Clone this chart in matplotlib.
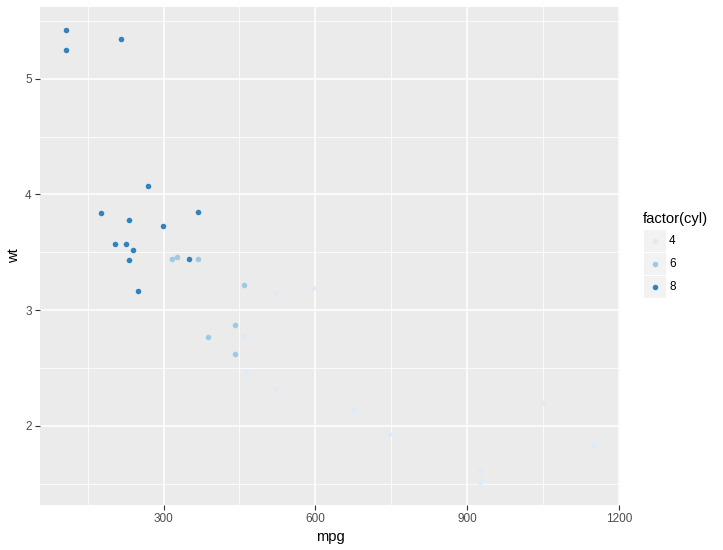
import matplotlib.pyplot as plt
from matplotlib.patches import Rectangle

# mtcars, x drawn as mpg^2
mpg_sq = [441.0, 441.0, 519.8, 458.0, 349.7, 327.6, 204.5, 595.4, 519.8, 368.6,
          316.8, 269.0, 299.3, 231.0, 108.2, 108.2, 216.1, 1049.8, 924.2, 1149.2,
          462.3, 240.3, 231.0, 176.9, 368.6, 745.3, 676.0, 924.2, 249.6, 388.1,
          225.0, 458.0]
wt = [2.620, 2.875, 2.320, 3.215, 3.440, 3.460, 3.570, 3.190, 3.150, 3.440,
      3.440, 4.070, 3.730, 3.780, 5.250, 5.424, 5.345, 2.200, 1.615, 1.835,
      2.465, 3.520, 3.435, 3.840, 3.845, 1.935, 2.140, 1.513, 3.170, 2.770,
      3.570, 2.780]
cyl = [6, 6, 4, 6, 8, 6, 8, 4, 4, 6, 6, 8, 8, 8, 8, 8, 8, 4, 4, 4,
       4, 8, 8, 8, 8, 4, 4, 4, 8, 6, 8, 4]

levels = [4, 6, 8]
colors = {4: '#DEEBF7', 6: '#9ECAE1', 8: '#3182BD'}

plt.rcParams['font.family'] = ['Liberation Sans', 'DejaVu Sans']

W, H = 723, 550
fig = plt.figure(figsize=(W / 100, H / 100), dpi=100)

# panel in pixel coords: left 40, right 620, top 7, bottom 505
ax = fig.add_axes([40 / W, (H - 505) / H, 580 / W, 498 / H])
ax.set_facecolor('#EBEBEB')
for s in ax.spines.values():
    s.set_visible(False)

xmin, xmax = min(mpg_sq), max(mpg_sq)
ymin, ymax = min(wt), max(wt)
dx, dy = (xmax - xmin) * 0.05, (ymax - ymin) * 0.05
ax.set_xlim(xmin - dx, xmax + dx)
ax.set_ylim(ymin - dy, ymax + dy)

ax.set_xticks([300, 600, 900, 1200])
ax.set_xticks([150, 450, 750, 1050], minor=True)
ax.set_yticks([2, 3, 4, 5])
ax.set_yticks([1.5, 2.5, 3.5, 4.5, 5.5], minor=True)
ax.grid(which='major', color='white', linewidth=1.1)
ax.grid(which='minor', color='white', linewidth=0.55)
ax.set_axisbelow(True)
ax.tick_params(which='major', length=3.5, width=0.8, color='#333333',
               labelcolor='#4D4D4D', labelsize=8.5, pad=2.5)
ax.tick_params(which='minor', length=0)

for c in levels:
    xs = [x for x, k in zip(mpg_sq, cyl) if k == c]
    ys = [y for y, k in zip(wt, cyl) if k == c]
    ax.scatter(xs, ys, s=16, color=colors[c], linewidths=0, zorder=3)

ax.set_xlabel('mpg', fontsize=10.6, color='black', labelpad=3)
ax.set_ylabel('wt', fontsize=10.6, color='black', labelpad=3)

# legend drawn in pixel space
lax = fig.add_axes([636 / W, (H - 300) / H, (W - 636) / W, 100 / H])
lax.set_xlim(636, W)
lax.set_ylim(300, 200)
lax.axis('off')
lax.text(643, 219, 'factor(cyl)', fontsize=10.6, va='center', ha='left')
for i, c in enumerate(levels):
    top = 230 + i * 23
    lax.add_patch(Rectangle((644, top), 22, 22, facecolor='#F2F2F2',
                            edgecolor='none'))
    lax.scatter([655], [top + 11], s=16, color=colors[c], linewidths=0)
    lax.text(669, top + 11, str(c), fontsize=8.5, va='center', ha='left')

fig.savefig('out.png', dpi=100)
